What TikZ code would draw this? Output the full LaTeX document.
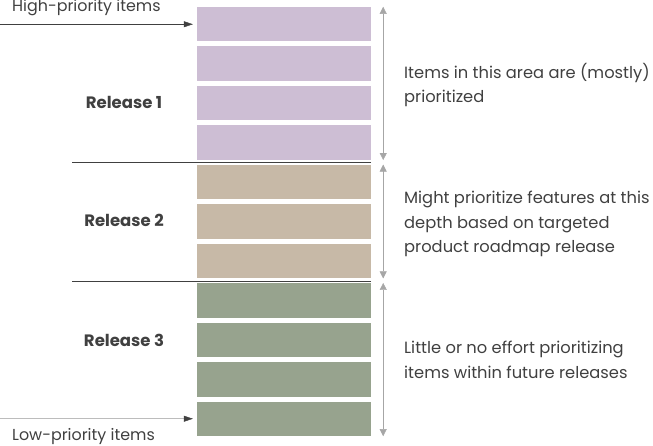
\documentclass[tikz,border=0pt]{standalone}
\usepackage{fontspec}
\setmainfont{Poppins}
\usetikzlibrary{positioning,arrows.meta}

\definecolor{relone}{RGB}{205,190,212}
\definecolor{reltwo}{RGB}{199,185,167}
\definecolor{relthree}{RGB}{151,163,142}
\definecolor{inkgray}{RGB}{64,64,64}
\definecolor{spangray}{RGB}{166,166,166}

\tikzset{
	item/.style={minimum width=174pt, minimum height=34.5pt, inner sep=0pt},
	rellabel/.style={font=\fontsize{16.5}{18}\selectfont\bfseries, text=inkgray},
	note/.style={font=\fontsize{16.3}{24.5}\selectfont, text=inkgray, align=left, anchor=west, inner sep=0pt},
	span/.style={spangray, {Triangle[width=7pt,length=7pt]}-{Triangle[width=7pt,length=7pt]}},
	feed/.style={inkgray, -{Triangle[width=6pt,length=9pt]}, shorten >=4pt}
}

\begin{document}
\begin{tikzpicture}[x=1pt, y=-1pt]
	\useasboundingbox (0,0) rectangle (653,446);
	% backlog items
	\foreach \i/\c in {1/relone,2/relone,3/relone,4/relone,
		5/reltwo,6/reltwo,7/reltwo,
		8/relthree,9/relthree,10/relthree,11/relthree}
		\node[item, fill=\c] (b\i) at (284,{24.25+(\i-1)*39.45}) {};

	% release separators
	\draw[inkgray] ([yshift=-2pt]b4.south east) -- ++(-299,0);
	\draw[inkgray] ([yshift=-2.5pt]b7.south east) -- ++(-299,0);

	\node[rellabel] (r1) at (124,102) {Release 1};
	\node[rellabel] (r2) at (124,220) {Release 2};
	\node[rellabel] (r3) at (124,340) {Release 3};

	% priority arrows
	\coordinate (hi) at (0,24.25);
	\coordinate (lo) at (0,418.75);
	\draw[feed] (hi) -- (b1.west);
	\draw[feed] (lo) -- (b11.west);
	\node[note, font=\fontsize{15.9}{17}\selectfont] (hitext) at (12,8) {High-priority items};
	\node[note, font=\fontsize{15.9}{17}\selectfont] (lotext) at (12,437) {Low-priority items};

	% spans
	\draw[span] ([xshift=12pt]b1.north east) -- ([xshift=12pt]b4.south east);
	\draw[span] ([xshift=12pt]b5.north east) -- ([xshift=12pt]b7.south east);
	\draw[span] ([xshift=12pt]b8.north east) -- ([xshift=12pt]b11.south east);

	\node[note] (n1) at (404,85) {Items in this area are (mostly)\\prioritized};
	\node[note] (n2) at (404,224) {Might prioritize features at this\\depth based on targeted\\product roadmap release};
	\node[note] (n3) at (404,360) {Little or no effort prioritizing\\items within future releases};
\end{tikzpicture}
\end{document}
